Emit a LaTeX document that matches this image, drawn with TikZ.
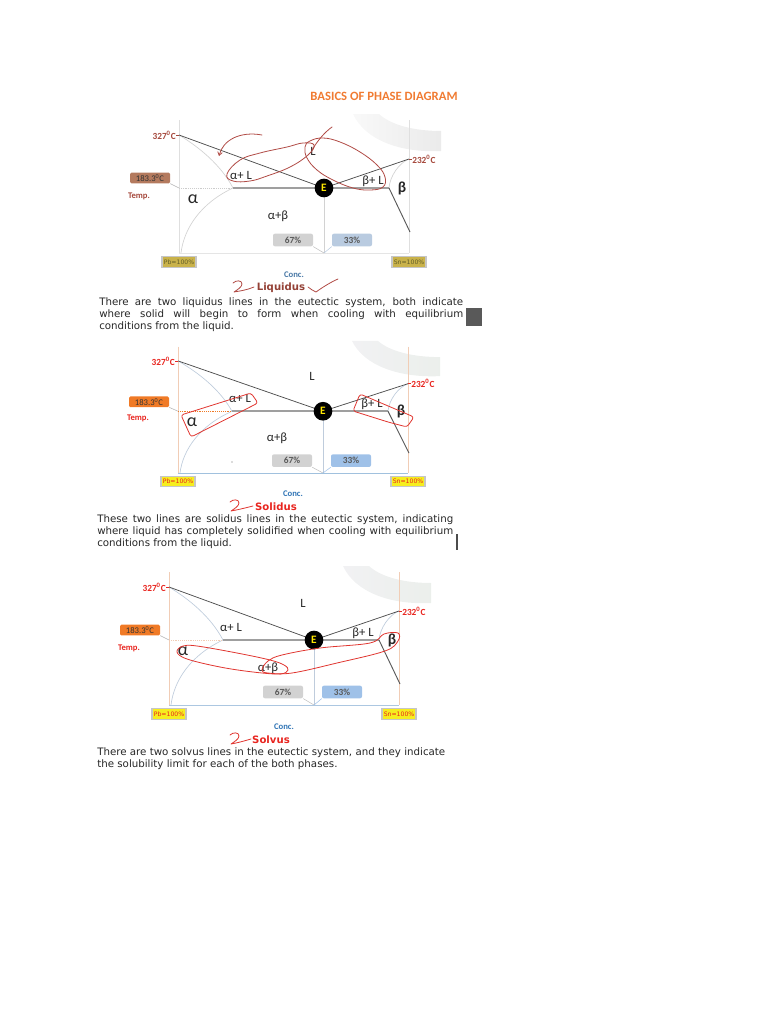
\documentclass[tikz,border=0pt]{standalone}
\usepackage{fontspec}
\setmainfont{DejaVu Sans}
\newfontfamily\cali{Carlito}
\usetikzlibrary{positioning, calc, arrows.meta}
\definecolor{titleor}{HTML}{F07B32}
\definecolor{fadered}{HTML}{A5483C}
\definecolor{brightred}{HTML}{E8251F}
\definecolor{brownbox}{HTML}{B47A5E}
\definecolor{orangebox}{HTML}{F07A26}
\definecolor{olivebox}{HTML}{C9B24A}
\definecolor{yellowbox}{HTML}{F6EE1E}
\definecolor{paleblue}{HTML}{B9CBE0}
\definecolor{skyblue}{HTML}{9FC1E8}
\definecolor{concblue}{HTML}{2F74B5}
\definecolor{peach}{HTML}{F1CDB6}
\definecolor{softline}{HTML}{BFCCDC}
\definecolor{inkfade}{HTML}{B04A44}
\definecolor{inkred}{HTML}{E0352F}

\tikzset{
  lab/.style={font=\cali\bfseries\fontsize{7}{8}\selectfont, text=lbl, inner sep=0pt},
  phs/.style={font=\cali\fontsize{9.5}{10}\selectfont, text=black!85, inner sep=0pt},
  bigphs/.style={font=\cali\fontsize{13.5}{14}\selectfont, text=black!85, inner sep=0pt},
  pctbox/.style={rounded corners=1.5pt, minimum width=30pt, minimum height=9.5pt, inner sep=0pt,
    font=\cali\bfseries\fontsize{7}{8}\selectfont, text=black!65},
  endbox/.style={draw=gray!45, line width=0.8pt, fill=pbfill, minimum width=25.5pt, minimum height=8pt,
    inner sep=0pt, font=\fontsize{4.6}{5}\selectfont, text=pbtext},
  ecirc/.style={circle, fill=black, minimum size=14pt, inner sep=0pt, text=yellow!90!orange,
    font=\cali\bfseries\fontsize{8.5}{9}\selectfont},
  ink/.style={draw=inkcol, line width=0.6pt, line cap=round, line join=round},
  para/.style={anchor=north west, inner sep=0pt, align=justify, font=\fontsize{7.7}{9.2}\selectfont, text=black!85},
  head/.style={font=\bfseries\fontsize{7.6}{9}\selectfont, inner sep=0pt},
  phase/.pic={
    % swoosh in the corner
    \shade[left color=swA, right color=swB] (174,-139) .. controls (186,-113) and (221,-100) .. (262,-102)
      -- (262,-122) .. controls (235,-122) and (212,-128) .. (200,-139) -- cycle;
    \coordinate (-o) at (0,0);
    \coordinate (-top) at (0,-133);
    \coordinate (-rt) at (230,-133);
    \coordinate (-rb) at (230,0);
    \coordinate (-t327) at (0,-118);
    \coordinate (-t232) at (230,-94);
    \coordinate (-el) at (54,-65);
    \coordinate (-er) at (210,-65);
    \coordinate (-sv) at (231,-21);
    \coordinate (-ec) at (145,-65);
    \coordinate (-base) at (145,0);
    \coordinate (-ax) at (0,-65);
    \draw[axcol, line width=0.5pt] (-top) -- (-o);
    \draw[axcol, line width=0.5pt] (-rt) -- (-rb);
    \draw[bascol, line width=0.7pt] (-o) -- (-rb);
    % solidus and solvus curves
    \draw[softcol, line width=0.5pt] (-t327) .. controls (20,-106) and (42,-88) .. (-el);
    \draw[softcol, line width=0.5pt] (-el) .. controls (22,-50) and (5,-25) .. (2,0);
    \draw[softcol, line width=0.5pt] (-t232) .. controls (220,-90) and (211,-77) .. (-er);
    \draw[softcol, line width=0.5pt] (-ec) -- (-base);
    \draw[dotcol, densely dotted, line width=0.4pt] (-ax) -- (-el);
    \draw[gray!75, line width=1.3pt] (-el) -- (-er);
    \draw[black!70, line width=0.55pt] (-t327) -- (-ec);
    \draw[black!70, line width=0.55pt] (-ec) -- (-t232);
    \draw[black!65, line width=0.7pt] (-er) -- (-sv);
    \node[ecirc] (-E) at (-ec) {E};
    % temperatures
    \node[lab, anchor=east] (-l327) at (-3,-118) {327\textsuperscript{0}C};
    \draw[lbl, line width=0.4pt] (-l327.east) -- (-t327);
    \node[lab, anchor=west] (-l232) at (233,-94) {232\textsuperscript{0}C};
    \draw[lbl, line width=0.4pt] (-t232) -- (-l232.west);
    \node[fill=tfill, rounded corners=1pt, minimum width=30pt, minimum height=8pt, inner sep=0pt,
      font=\cali\fontsize{6.5}{7}\selectfont, text=black!80] (-tb) at (-29,-75) {183.3\textsuperscript{0}C};
    \draw[gray!60, line width=0.4pt] (-tb.south east) -- (-ax);
    \node[lab, font=\cali\bfseries\fontsize{6.5}{7}\selectfont] (-tp) at (-40,-57) {Temp.};
    % phases
    \node[bigphs] (-alpha) at (14,-54) {α};
    \node[phs] (-aL) at (62,-78) {α+ L};
    \node[phs] (-ab) at (99,-37) {α+β};
    \node[phs] (-L) at (134,-102) {L};
    \node[phs] (-bL) at (194,-72) {β+ L};
    \node[bigphs, font=\cali\bfseries\fontsize{11.5}{12}\selectfont] (-beta) at (223,-65) {β};
    % composition
    \node[pctbox, fill=gray!35] (-p67) at (114,-13) {67\%};
    \node[pctbox, fill=c33] (-p33) at (173,-13) {33\%};
    \draw[gray!50, line width=0.4pt] (-p67.south east) -- (-base);
    \draw[c33, line width=0.4pt] (-p33.south west) -- (-base);
    \node[endbox] (-pb) at (0,9) {Pb=100\%};
    \node[endbox] (-sn) at (230,9) {Sn=100\%};
    \node[font=\cali\bfseries\fontsize{6.5}{7}\selectfont, text=conccol, inner sep=0pt] (-conc) at (115,22) {Conc.};
  }
}

\begin{document}
\begin{tikzpicture}[x=0.75pt, y=-0.75pt]
  \useasboundingbox (0,0) rectangle (768,1024);
  \node[font=\cali\bfseries\fontsize{9.5}{10}\selectfont, text=titleor] (title) at (384,96) {BASICS OF PHASE DIAGRAM};

  % first panel: liquidus
  \begin{scope}
    \colorlet{lbl}{fadered}
    \colorlet{axcol}{gray!25}
    \colorlet{bascol}{gray!20}
    \colorlet{softcol}{gray!35}
    \colorlet{dotcol}{gray!40}
    \colorlet{tfill}{brownbox}
    \colorlet{pbfill}{olivebox}
    \colorlet{pbtext}{olive!60!black}
    \colorlet{c33}{paleblue}
    \colorlet{conccol}{concblue!70!gray}
    \colorlet{swA}{gray!5}
    \colorlet{swB}{gray!16}
    \colorlet{inkcol}{inkfade}
    \pic (one) at (179,253) {phase};
    \draw[ink] plot[smooth cycle, tension=0.7] coordinates {(227,174) (240,160) (260,153) (287,147) (303,143) (314,145)
      (308,155) (290,167) (267,176) (250,181) (233,181)};
    \draw[ink] plot[smooth cycle, tension=0.7] coordinates {(305,147) (310,141) (323,138) (340,142) (360,152) (377,165)
      (385,177) (383,187) (370,190) (353,188) (333,180) (317,170) (307,158)};
    \draw[ink] (312,150) .. controls (318,140) and (325,132) .. (332,127);
    \draw[ink, -{Straight Barb[length=2.5pt, width=3.5pt]}] (262,135) .. controls (240,131) and (223,140) .. (219,156);
    \draw[ink] (233,283) .. controls (236,280) and (242,280) .. (242,284) .. controls (242,287) and (237,290) .. (234,292)
      .. controls (240,291) and (247,290) .. (254,287);
    \node[head, text=fadered!90!black] (h1) at (281,288) {Liquidus};
    \draw[ink] (308,287) .. controls (311,289) and (313,291) .. (316,292) .. controls (323,287) and (331,282) .. (338,279);
    \node[para, text width=273pt] (txt1) at (99,297) {There are two liquidus lines in the eutectic system, both indicate\linebreak
      where solid will begin to form when cooling with equilibrium\linebreak conditions from the liquid.};
    \fill[black!65] (466,308) rectangle (482,326);
  \end{scope}

  % second panel: solidus
  \begin{scope}
    \colorlet{lbl}{brightred}
    \colorlet{axcol}{peach}
    \colorlet{bascol}{concblue!45}
    \colorlet{softcol}{softline}
    \colorlet{dotcol}{orangebox}
    \colorlet{tfill}{orangebox}
    \colorlet{pbfill}{yellowbox}
    \colorlet{pbtext}{brightred}
    \colorlet{c33}{skyblue}
    \colorlet{conccol}{concblue}
    \colorlet{swA}{blue!8!gray!10}
    \colorlet{swB}{green!10!gray!14}
    \colorlet{inkcol}{inkred}
    \pic[yscale=0.95] (two) at (178,473) {phase};
    \fill[black!60] (232,462) circle (0.6);
    \draw[ink, rounded corners=2pt] (181,415) -- (251,393) -- (258,403) -- (191,437) -- cycle;
    \draw[ink, rounded corners=2pt] (360,394) -- (414,417) -- (407,427) -- (388,422) -- (353,411) -- cycle;
    \draw[ink] (230,502) .. controls (233,499) and (239,499) .. (239,503) .. controls (239,506) and (234,509) .. (231,511)
      .. controls (237,510) and (245,508) .. (253,506);
    \node[head, text=brightred] (h2) at (276,507) {Solidus};
    \node[para, text width=267pt] (txt2) at (97,514) {These two lines are solidus lines in the eutectic system, indicating\linebreak
      where liquid has completely solidified when cooling with equilibrium\linebreak conditions from the liquid.};
    \fill[black!70] (456,534) rectangle (458,550);
  \end{scope}

  % third panel: solvus
  \begin{scope}
    \colorlet{lbl}{brightred}
    \colorlet{axcol}{peach}
    \colorlet{bascol}{concblue!40}
    \colorlet{softcol}{softline}
    \colorlet{dotcol}{peach}
    \colorlet{tfill}{orangebox}
    \colorlet{pbfill}{yellowbox}
    \colorlet{pbtext}{brightred}
    \colorlet{c33}{skyblue}
    \colorlet{conccol}{concblue}
    \colorlet{swA}{blue!8!gray!10}
    \colorlet{swB}{green!10!gray!14}
    \colorlet{inkcol}{inkred}
    \pic (three) at (169,705) {phase};
    \draw[ink] plot[smooth cycle, tension=0.6] coordinates {(177,652) (183,646) (197,646) (237,653) (270,660) (284,665)
      (288,670) (280,674) (253,672) (220,667) (187,659)};
    \draw[ink] plot[smooth cycle, tension=0.6] coordinates {(262,670) (268,661) (282,655) (320,648) (370,643) (384,634)
      (398,633) (398,641) (385,651) (337,663) (292,673) (268,673)};
    \draw[ink] (230,735) .. controls (233,732) and (239,732) .. (239,736) .. controls (239,739) and (234,742) .. (231,744)
      .. controls (237,743) and (244,741) .. (251,739);
    \node[head, text=brightred] (h3) at (271,740) {Solvus};
    \node[para, text width=261pt] (txt3) at (97,747) {There are two solvus lines in the eutectic system, and they indicate\linebreak
      the solubility limit for each of the both phases.};
  \end{scope}
\end{tikzpicture}
\end{document}
